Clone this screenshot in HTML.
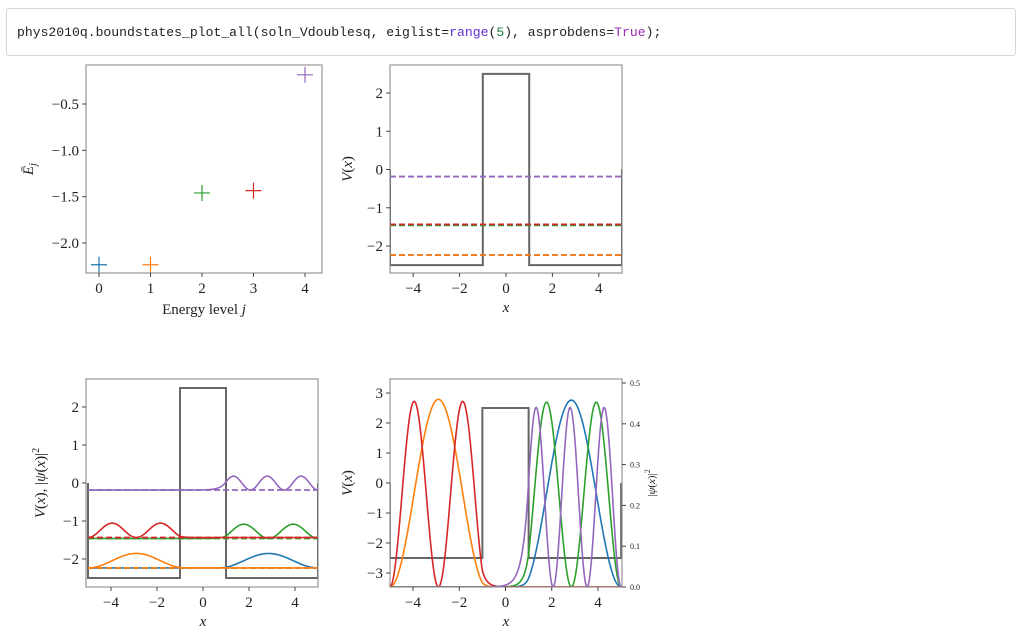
<!DOCTYPE html>
<html><head><meta charset="utf-8">
<style>
body{margin:0;background:#fff;width:1022px;height:643px;overflow:hidden;position:relative}
#code{position:absolute;left:6px;top:8px;width:1010px;height:48px;box-sizing:border-box;border:1px solid #d6d6d6;border-radius:3px;background:#fff;font-family:"Liberation Mono",monospace;font-size:13.1px;line-height:48px;padding-left:10px;color:#222;white-space:pre}
svg{position:absolute;left:0;top:0}
text{font-family:"Liberation Serif",serif}
</style></head><body>
<div id="code">phys2010q.boundstates_plot_all(soln_Vdoublesq, eiglist=<span style="color:#5d2fd6">range</span>(<span style="color:#1c7a3a">5</span>), asprobdens=<span style="color:#9a2bb5">True</span>);</div>
<svg id="fig" width="1022" height="643"></svg>
<script>
// ---- data ----
const levels = [0, 1, 2, 3, 4];
const energies = [-2.235, -2.235, -1.46, -1.435, -0.185];
const colors = ['#1f77b4', '#ff7f0e', '#2ca02c', '#d62728', '#9467bd'];
const wellSide = [1, -1, 1, -1, 1];          // +1 right well, -1 left well
const halfPeriod = [4.3, 4.2, 2.15, 2.1, 1.47]; // node spacing of |psi|^2 inside well
const peakDens = [0.458, 0.46, 0.453, 0.455, 0.44];
const decayRate = [6, 6, 5, 5, 4];
const densScale = 0.83;
const barrierEdges = [-5, -1, 1, 5];
const potentialVals = [-2.5, 2.5, -2.5];
const xTicks = [-4, -2, 0, 2, 4];
const levelTicks = [0, 1, 2, 3, 4];
const energyTicks = [-0.5, -1.0, -1.5, -2.0];
const vTicks2 = [2, 1, 0, -1, -2];
const vTicks4 = [3, 2, 1, 0, -1, -2, -3];
const densTicks = [0.0, 0.1, 0.2, 0.3, 0.4, 0.5];

const NS = 'http://www.w3.org/2000/svg';
const svg = document.getElementById('fig');
function el(tag, attrs, parent) {
  const e = document.createElementNS(NS, tag);
  for (const k in attrs) e.setAttribute(k, attrs[k]);
  (parent || svg).appendChild(e);
  return e;
}
function lin(d0, d1, r0, r1) { return v => r0 + (v - d0) * (r1 - r0) / (d1 - d0); }
function fmt(v, dec) { let s = dec ? v.toFixed(dec) : String(v); return s.replace('-', '\u2212'); }

function axes(name, x0, y0, x1, y1) {
  const g = el('g', {});
  
  
  const clipId = name + '-clip';
  const cp = el('clipPath', { id: clipId }, g);
  el('rect', { x: x0, y: y0, width: x1 - x0, height: y1 - y0 }, cp);
  const plot = el('g', { 'clip-path': 'url(#' + clipId + ')' }, g);
  return { g, plot, x0, y0, x1, y1 };
}
function frame(A) {
  const r = el('rect', { x: A.x0, y: A.y0, width: A.x1 - A.x0, height: A.y1 - A.y0, fill: 'none', stroke: '#808080', 'stroke-width': 1 }, A.g);
  
  
}
function xAxis(A, sx, ticks) {
  ticks.forEach(t => {
    const x = sx(t);
    el('line', { x1: x, y1: A.y1, x2: x, y2: A.y1 + 4, stroke: '#444' }, A.g);
    const tx = el('text', { x: x, y: A.y1 + 20, 'font-size': 15, 'text-anchor': 'middle', fill: '#222' }, A.g);
    
    
    tx.textContent = fmt(t);
  });
}
function yAxis(A, sy, ticks, dec) {
  ticks.forEach(t => {
    const y = sy(t);
    el('line', { x1: A.x0 - 4, y1: y, x2: A.x0, y2: y, stroke: '#444' }, A.g);
    const tx = el('text', { x: A.x0 - 7, y: y + 5, 'font-size': 15, 'text-anchor': 'end', fill: '#222' }, A.g);
    
    
    tx.textContent = fmt(t, dec);
  });
}
function label(parent, x, y, txt, rot, name, fs) {
  const t = el('text', { x: x, y: y, 'font-size': fs || 15, 'text-anchor': 'middle', fill: '#222', transform: rot ? 'rotate(-90 ' + x + ' ' + y + ')' : '' }, parent);
  
  
  t.innerHTML = txt;
  return t;
}
function potentialPath(sx, sy) {
  let d = 'M' + sx(barrierEdges[0]) + ' ' + sy(0.0);
  for (let i = 0; i < potentialVals.length; i++) {
    d += ' L' + sx(barrierEdges[i]) + ' ' + sy(potentialVals[i]) + ' L' + sx(barrierEdges[i + 1]) + ' ' + sy(potentialVals[i]);
  }
  d += ' L' + sx(barrierEdges[barrierEdges.length - 1]) + ' ' + sy(0.0);
  return d;
}
function density(j, x) {
  const side = wellSide[j];
  const dist = side > 0 ? 5 - x : x + 5;
  const k = Math.PI / halfPeriod[j];
  if (dist <= 4) { const s = Math.sin(k * dist); return peakDens[j] * s * s; }
  const s = Math.sin(k * 4);
  return peakDens[j] * s * s * Math.exp(-decayRate[j] * (dist - 4));
}
function densPath(j, sx, fy) {
  let d = '';
  for (let i = 0; i <= 400; i++) {
    const x = -5 + i * 10 / 400;
    d += (i ? ' L' : 'M') + sx(x).toFixed(2) + ' ' + fy(density(j, x)).toFixed(2);
  }
  return d;
}

// ---- Panel 1 ----
{
  const A = axes('energy-levels-panel', 86, 65, 322, 273);
  const sx = lin(0, 4, 99, 305), sy = lin(-0.5, -2.0, 104, 243);
  levels.forEach((j, i) => {
    const x = sx(j), y = sy(energies[i]);
    const m = el('path', { d: 'M' + (x - 8) + ' ' + y + 'H' + (x + 8) + 'M' + x + ' ' + (y - 8) + 'V' + (y + 8), stroke: colors[i], 'stroke-width': 1.2, fill: 'none' }, A.plot);
    
    
  });
  frame(A); xAxis(A, sx, levelTicks); yAxis(A, sy, energyTicks, 1);
  label(A.g, 204, 314, 'Energy level <tspan font-style="italic">j</tspan>', false, 'x-axis-title');
  label(A.g, 33, 169, '<tspan font-style="italic">Ē</tspan><tspan font-style="italic" font-size="11" dy="3">j</tspan>', true, 'y-axis-title');
}

// ---- Panel 2 ----
{
  const A = axes('potential-panel', 390, 65, 622, 273);
  const sx = lin(-5, 5, 390, 622), sy = lin(2, -2, 93, 246);
  const p = el('path', { d: potentialPath(sx, sy), fill: 'none', stroke: '#666', 'stroke-width': 2 }, A.plot);
  
  
  energies.forEach((E, i) => {
    const l = el('line', { x1: sx(-5), x2: sx(5), y1: sy(E), y2: sy(E), stroke: colors[i], 'stroke-width': 1.8, 'stroke-dasharray': '6,3' }, A.plot);
    
    
  });
  frame(A); xAxis(A, sx, xTicks); yAxis(A, sy, vTicks2);
  label(A.g, 506, 312, 'x', false, 'x-axis-title').setAttribute('font-style', 'italic');
  label(A.g, 352, 169, '<tspan font-style="italic">V</tspan>(<tspan font-style="italic">x</tspan>)', true, 'y-axis-title');
}

// ---- Panel 3 ----
{
  const A = axes('offset-density-panel', 86, 379, 318, 587);
  const sx = lin(-4, 4, 111, 295), sy = lin(2, -2, 407, 559);
  const p = el('path', { d: potentialPath(sx, sy), fill: 'none', stroke: '#666', 'stroke-width': 2 }, A.plot);
  
  
  energies.forEach((E, i) => {
    const l = el('line', { x1: sx(-5), x2: sx(5), y1: sy(E), y2: sy(E), stroke: colors[i], 'stroke-width': 1.8, 'stroke-dasharray': '6,3' }, A.plot);
    
    
    const c = el('path', { d: densPath(i, sx, v => sy(E + densScale * v)), fill: 'none', stroke: colors[i], 'stroke-width': 1.6 }, A.plot);
    
    
  });
  frame(A); xAxis(A, sx, xTicks); yAxis(A, sy, vTicks2);
  label(A.g, 203, 626, 'x', false, 'x-axis-title').setAttribute('font-style', 'italic');
  label(A.g, 45, 483, '<tspan font-style="italic">V</tspan>(<tspan font-style="italic">x</tspan>), |<tspan font-style="italic">ψ</tspan>(<tspan font-style="italic">x</tspan>)|<tspan font-size="10" dy="-6">2</tspan>', true, 'y-axis-title');
}

// ---- Panel 4 ----
{
  const A = axes('twin-axis-density-panel', 390, 379, 622, 587);
  const sx = lin(-4, 4, 413, 598), sy = lin(3, -3, 393, 573), sd = lin(0, 0.5, 587, 383);
  const p = el('path', { d: potentialPath(sx, sy), fill: 'none', stroke: '#666', 'stroke-width': 2 }, A.plot);
  
  
  energies.forEach((E, i) => {
    const c = el('path', { d: densPath(i, sx, sd), fill: 'none', stroke: colors[i], 'stroke-width': 1.6 }, A.plot);
    
    
  });
  frame(A); xAxis(A, sx, xTicks); yAxis(A, sy, vTicks4);
  densTicks.forEach(t => {
    const y = sd(t);
    el('line', { x1: A.x1, y1: y, x2: A.x1 + 4, y2: y, stroke: '#444' }, A.g);
    const tx = el('text', { x: A.x1 + 8, y: y + 3, 'font-size': 8, fill: '#222' }, A.g);
    
    
    tx.textContent = t.toFixed(1);
  });
  label(A.g, 506, 626, 'x', false, 'x-axis-title').setAttribute('font-style', 'italic');
  label(A.g, 352, 483, '<tspan font-style="italic">V</tspan>(<tspan font-style="italic">x</tspan>)', true, 'y-axis-title');
  label(A.g, 655, 483, '|<tspan font-style="italic">ψ</tspan>(<tspan font-style="italic">x</tspan>)|<tspan font-size="8" dy="-5">2</tspan>', true, 'right-axis-title', 11);
}
</script>
</body></html>
